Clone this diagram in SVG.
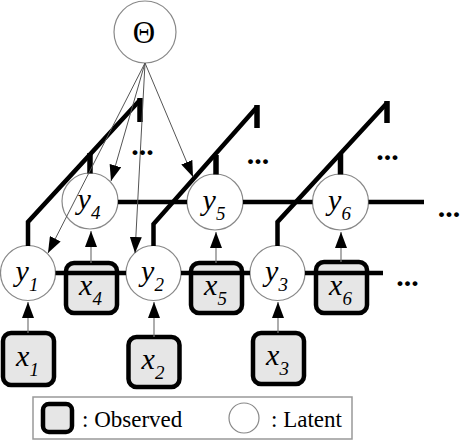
<svg xmlns="http://www.w3.org/2000/svg" width="474" height="441" viewBox="0 0 474 441">
<defs>
<marker id="ah" markerWidth="16" markerHeight="12" refX="16" refY="6" orient="auto" markerUnits="userSpaceOnUse"><path d="M0,0 L16,6 L0,12 z" fill="#000"/></marker>
<style>
.lat{fill:#fff;stroke:#888;stroke-width:1.2}
.obs{fill:#e6e6e6;stroke:#000;stroke-width:4.5}
text{font-family:"Liberation Serif","Times New Roman","DejaVu Serif",serif;fill:#000}
.lbl{font-style:italic;font-size:30px}
.sub{font-size:19px}
.thick{fill:none;stroke:#000;stroke-width:4.5;stroke-linejoin:miter}
.tick{stroke:#000;stroke-width:5.5}
.thin{stroke:#555;stroke-width:1;marker-end:url(#ah)}
.up{stroke:#777;stroke-width:1.2;marker-end:url(#ah)}
.dots{font-weight:bold;font-size:30px}
.leg{font-size:23px}
</style>
</defs>
<rect width="474" height="441" fill="#fff"/>

<g id="theta"><circle class="lat" cx="145" cy="32" r="31"/><text x="144" y="43" text-anchor="middle" font-size="31">Θ</text></g>

<g id="y1"><circle class="lat" cx="28" cy="273" r="27.5"/><text class="lbl" x="27" y="281" text-anchor="middle">y<tspan class="sub" dy="10">1</tspan></text></g>
<g id="y2"><circle class="lat" cx="153.5" cy="273" r="27.5"/><text class="lbl" x="152.5" y="281" text-anchor="middle">y<tspan class="sub" dy="10">2</tspan></text></g>
<g id="y3"><circle class="lat" cx="277.5" cy="273" r="27.5"/><text class="lbl" x="276.5" y="281" text-anchor="middle">y<tspan class="sub" dy="10">3</tspan></text></g>
<g id="y4"><circle class="lat" cx="90" cy="201" r="28"/><text class="lbl" x="89" y="209" text-anchor="middle">y<tspan class="sub" dy="10">4</tspan></text></g>
<g id="y5"><circle class="lat" cx="215" cy="202" r="28"/><text class="lbl" x="214" y="210" text-anchor="middle">y<tspan class="sub" dy="10">5</tspan></text></g>
<g id="y6"><circle class="lat" cx="340.5" cy="202" r="28"/><text class="lbl" x="339.5" y="210" text-anchor="middle">y<tspan class="sub" dy="10">6</tspan></text></g>

<g id="x1"><rect class="obs" x="3" y="333" width="51" height="52" rx="8"/><text class="lbl" x="27.5" y="366" text-anchor="middle">x<tspan class="sub" dy="10">1</tspan></text></g>
<g id="x2"><rect class="obs" x="128.5" y="337" width="51" height="50" rx="8"/><text class="lbl" x="153" y="369" text-anchor="middle">x<tspan class="sub" dy="10">2</tspan></text></g>
<g id="x3"><rect class="obs" x="253" y="333" width="51" height="51" rx="8"/><text class="lbl" x="277.5" y="365" text-anchor="middle">x<tspan class="sub" dy="10">3</tspan></text></g>
<g id="x4"><rect class="obs" x="66" y="263" width="51" height="50" rx="8"/><text class="lbl" x="90.5" y="295" text-anchor="middle">x<tspan class="sub" dy="10">4</tspan></text></g>
<g id="x5"><rect class="obs" x="191" y="263" width="51" height="50" rx="8"/><text class="lbl" x="215.5" y="295" text-anchor="middle">x<tspan class="sub" dy="10">5</tspan></text></g>
<g id="x6"><rect class="obs" x="316" y="262" width="51" height="51" rx="8"/><text class="lbl" x="340.5" y="295" text-anchor="middle">x<tspan class="sub" dy="10">6</tspan></text></g>

<g id="connectors">
<line class="thick" x1="55.5" y1="273" x2="126" y2="273"/>
<line class="thick" x1="181" y1="273" x2="250" y2="273"/>
<line class="thick" x1="305" y1="273" x2="383" y2="273"/>
<line class="thick" x1="118" y1="202" x2="187" y2="202"/>
<line class="thick" x1="243" y1="202" x2="312.5" y2="202"/>
<line class="thick" x1="368.5" y1="202" x2="424" y2="202"/>
<polyline class="thick" points="28,246 28,222 140,100"/>
<line class="tick" x1="140" y1="98" x2="140" y2="122"/>
<line class="tick" x1="90" y1="153" x2="90" y2="173.5"/>
<polyline class="thick" points="153.5,246 153.5,224 257,107"/>
<line class="tick" x1="257" y1="105" x2="257" y2="128"/>
<line class="tick" x1="216" y1="155" x2="216" y2="174.5"/>
<polyline class="thick" points="277.5,246 277.5,222 387,103"/>
<line class="tick" x1="387" y1="101" x2="387" y2="123"/>
<line class="tick" x1="340.5" y1="154" x2="340.5" y2="174.5"/>
<line class="thin" x1="145" y1="63" x2="48" y2="253"/>
<line class="thin" x1="145" y1="63" x2="111" y2="181"/>
<line class="thin" x1="145" y1="63" x2="135" y2="253"/>
<line class="thin" x1="145" y1="63" x2="193" y2="177"/>
<line class="up" x1="28" y1="333" x2="28" y2="302"/>
<line class="up" x1="154" y1="337" x2="154" y2="302"/>
<line class="up" x1="278" y1="333" x2="278" y2="302"/>
<line class="up" x1="91" y1="263" x2="91" y2="231"/>
<line class="up" x1="216" y1="263" x2="216" y2="232"/>
<line class="up" x1="341" y1="262" x2="341" y2="232"/>
</g>

<g id="ellipses">
<text class="dots" x="142.5" y="155" text-anchor="middle">...</text>
<text class="dots" x="258" y="164" text-anchor="middle">...</text>
<text class="dots" x="387.5" y="160" text-anchor="middle">...</text>
<text class="dots" x="449" y="217" text-anchor="middle">...</text>
<text class="dots" x="407.5" y="286" text-anchor="middle">...</text>
</g>

<g id="legend">
<rect x="33" y="397" width="319" height="42" fill="#fff" stroke="#999" stroke-width="1.5"/>
<rect class="obs" x="43" y="404" width="29" height="28" rx="6"/>
<text class="leg" x="82" y="427">: Observed</text>
<circle class="lat" cx="244" cy="418" r="15"/>
<text class="leg" x="271" y="427">: Latent</text>
</g>
</svg>
